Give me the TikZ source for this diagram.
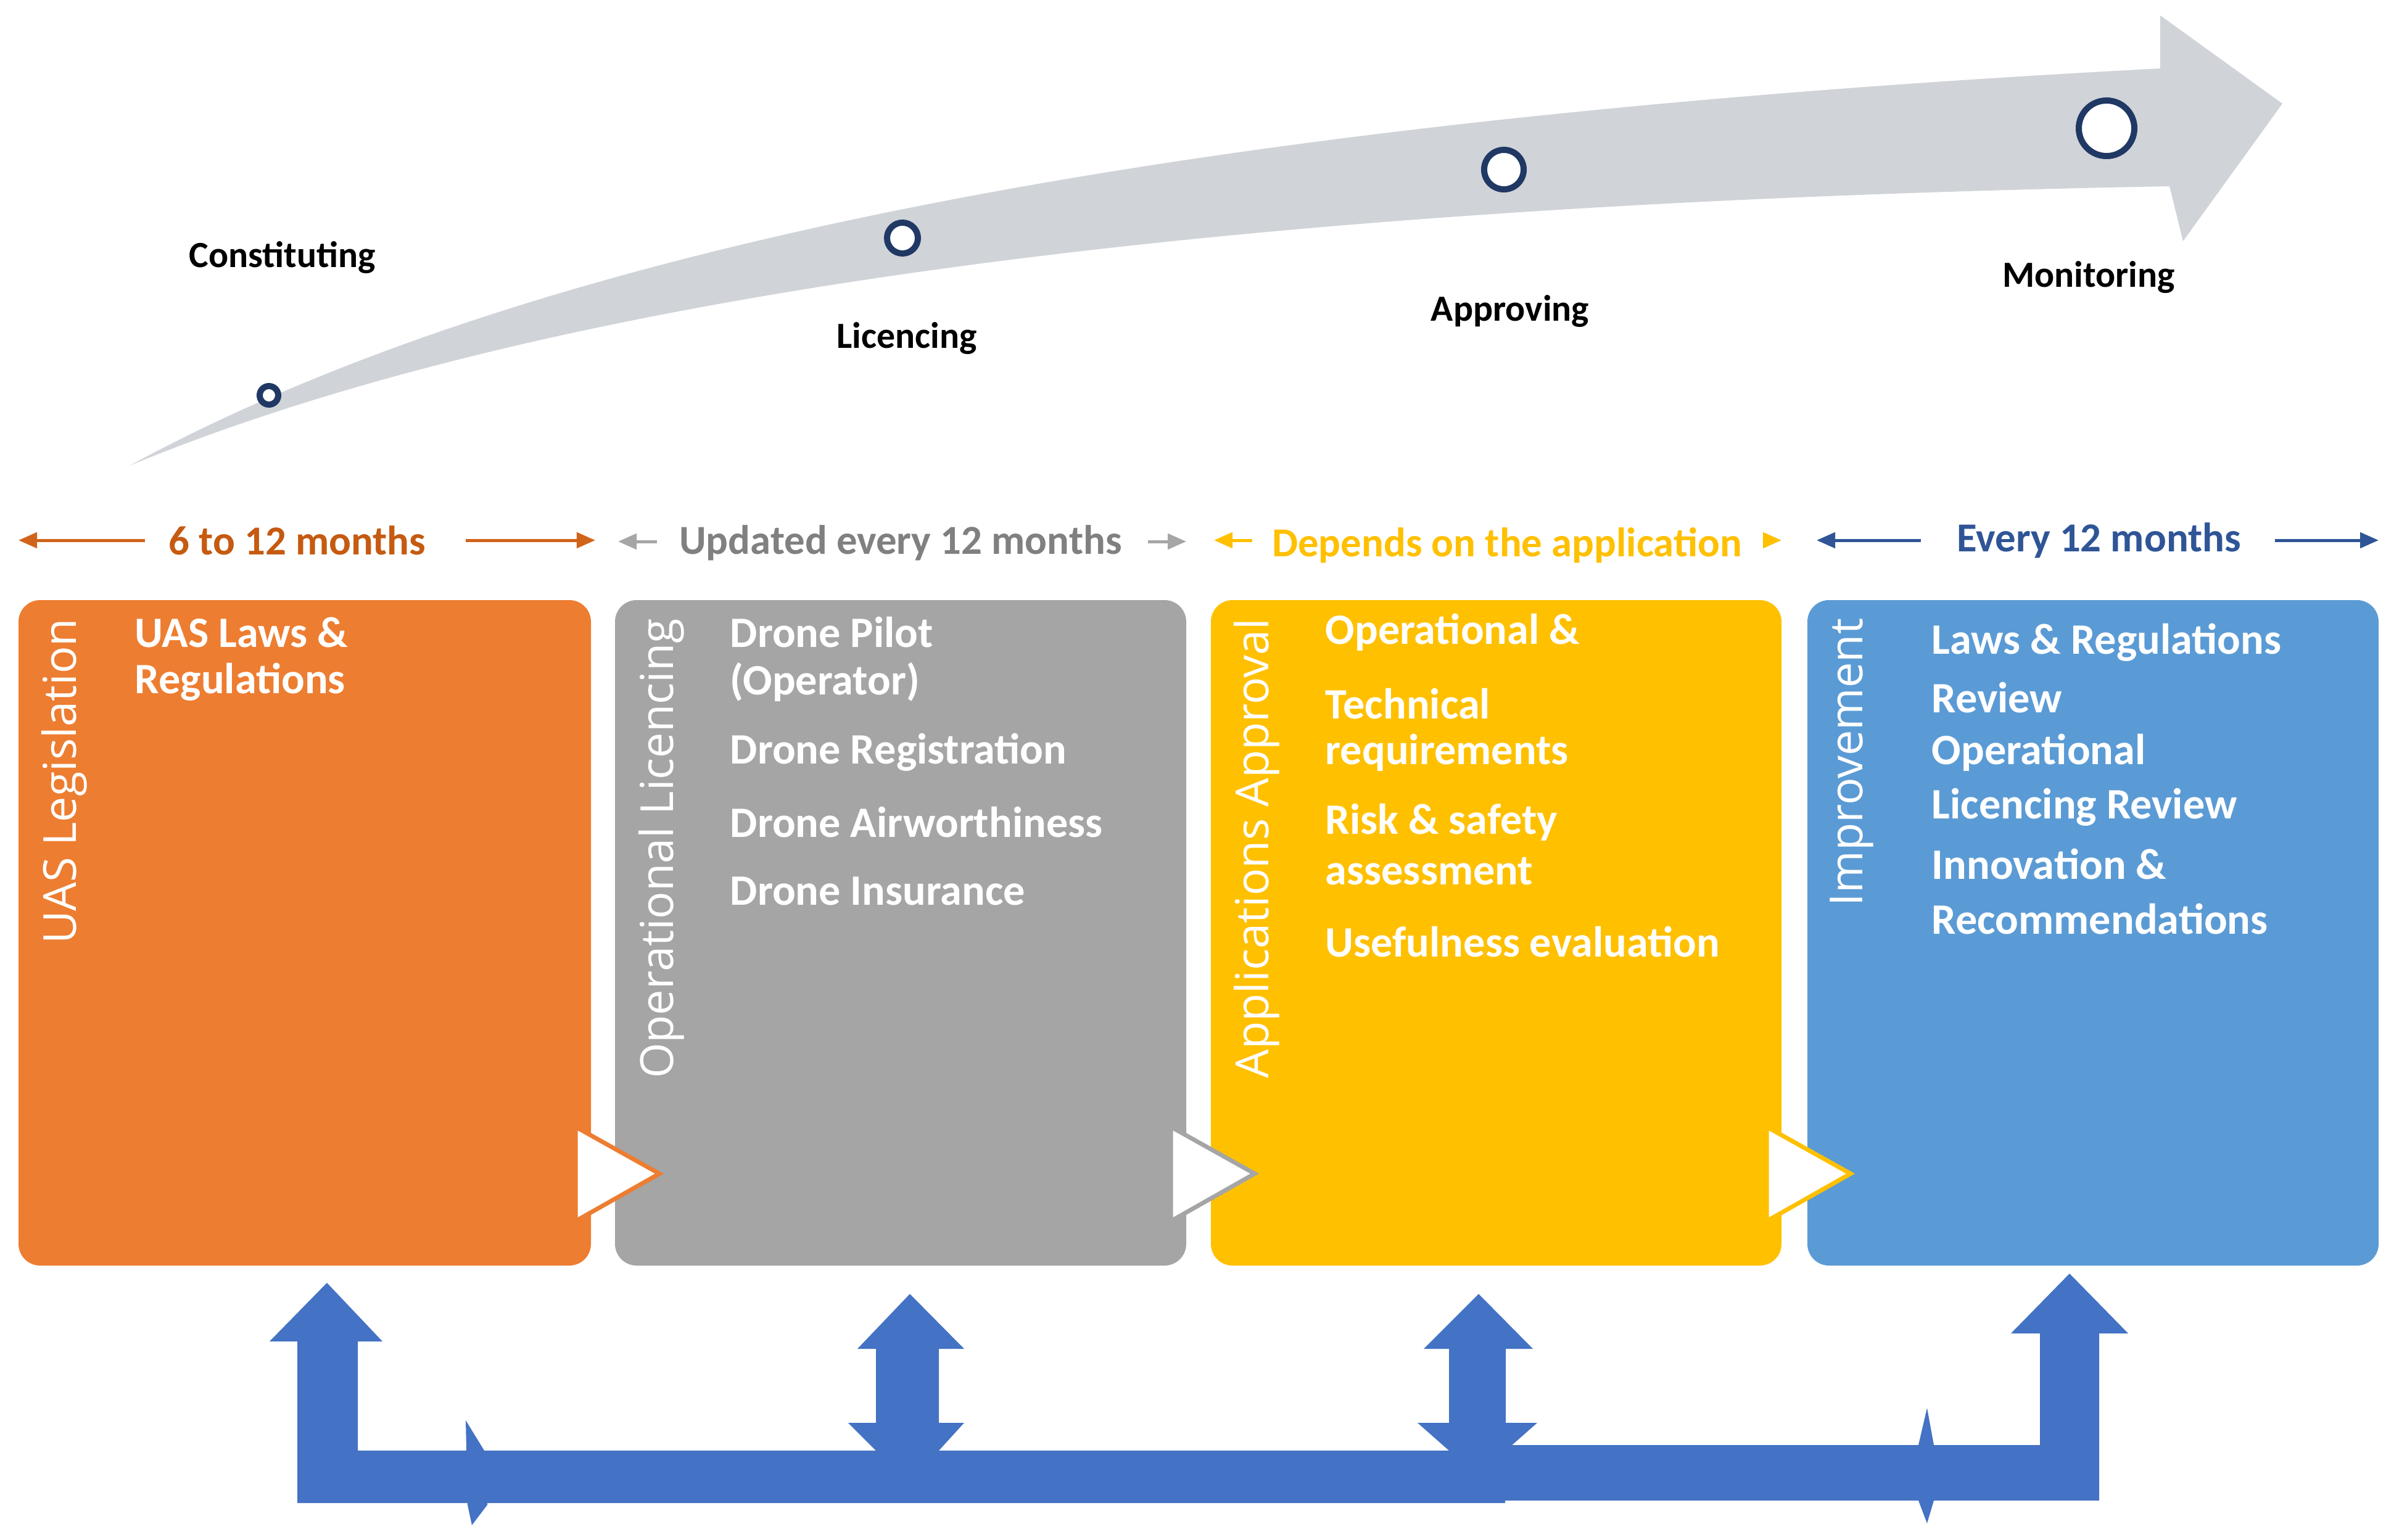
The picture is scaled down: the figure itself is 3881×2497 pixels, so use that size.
\documentclass[tikz,border=0pt]{standalone}
\usepackage{fontspec}
\usetikzlibrary{arrows.meta}
\setmainfont{Carlito}
\newfontfamily\titlefont{Open Sans}
\definecolor{cOr}{HTML}{ED7D31}
\definecolor{cGr}{HTML}{A5A5A5}
\definecolor{cYe}{HTML}{FFC000}
\definecolor{cBl}{HTML}{5B9BD5}
\definecolor{tOr}{HTML}{C55A11}
\definecolor{tGr}{HTML}{808080}
\definecolor{tBl}{HTML}{2F5597}
\definecolor{cArr}{HTML}{4472C4}
\definecolor{cBig}{HTML}{D0D3D8}
\definecolor{cNavy}{HTML}{203864}
\begin{document}
\begin{tikzpicture}[x=0.01cm,y=-0.01cm,
  box/.style={rounded corners=0.35cm},
  vtitle/.style={rotate=90,anchor=east,text=white,font=\titlefont\fontsize{21}{24}\selectfont,inner sep=0pt},
  item/.style={anchor=west,text=white,font=\bfseries\fontsize{20}{24}\selectfont,inner sep=0pt},
  phase/.style={font=\bfseries\fontsize{17}{20}\selectfont,text=black},
  timing/.style={font=\bfseries\fontsize{19}{22}\selectfont},
  tarr/.style={line width=0.05cm,-{Triangle[length=0.3cm,width=0.25cm]}},
  stone/.style={circle,draw=cNavy,fill=white,line width=0.1cm,inner sep=0pt},
  tri/.style={fill=white,line width=0.07cm,line join=miter},
  blu/.style={fill=cArr}]
\useasboundingbox (0,0) rectangle (3881,2497);
\fill[white] (0,0) rectangle (3881,2497);
% big arrow
\fill[cBig] (210,755) .. controls (900,380) and (2000,190) .. (3502,111) -- (3502,25) -- (3700,168) -- (3539,391) -- (3517,302) .. controls (2000,330) and (900,470) .. (210,755) -- cycle;
\node[stone,minimum size=0.3cm] (s1) at (436,641) {};
\node[stone,minimum size=0.5cm] (s2) at (1463,386) {};
\node[stone,minimum size=0.64cm] (s3) at (2438,275) {};
\node[stone,minimum size=0.9cm] (s4) at (3415,208) {};
\node[phase] (p1) at (458,418) {Constituting};
\node[phase] (p2) at (1470,549) {Licencing};
\node[phase] (p3) at (2448,505) {Approving};
\node[phase] (p4) at (3386,450) {Monitoring};
% timings
\coordinate (a1) at (235,876); \coordinate (a1e) at (30,876);
\coordinate (a2) at (755,876); \coordinate (a2e) at (965,876);
\draw[tarr,tOr!70!cOr] (a1) -- (a1e); \draw[tarr,tOr!70!cOr] (a2) -- (a2e);
\node[timing,text=tOr] (t1) at (482,876) {6 to 12 months};
\coordinate (b1) at (1065,878); \coordinate (b1e) at (1002,878);
\coordinate (b2) at (1861,878); \coordinate (b2e) at (1923,878);
\draw[tarr,tGr!70] (b1) -- (b1e); \draw[tarr,tGr!70] (b2) -- (b2e);
\node[timing,text=tGr] (t2) at (1460,880) {Updated every 12 months};
\coordinate (c1) at (2030,876); \coordinate (c1e) at (1968,876);
\coordinate (c2) at (2860,876); \coordinate (c2e) at (2888,876);
\draw[tarr,cYe] (c1) -- (c1e); \draw[tarr,cYe] (c2) -- (c2e);
\node[timing,text=cYe] (t3) at (2443,884) {Depends on the application};
\coordinate (d1) at (3114,876); \coordinate (d1e) at (2945,876);
\coordinate (d2) at (3688,876); \coordinate (d2e) at (3856,876);
\draw[tarr,tBl] (d1) -- (d1e); \draw[tarr,tBl] (d2) -- (d2e);
\node[timing,text=tBl] (t4) at (3403,876) {Every 12 months};
% boxes
\fill[box,cOr] (30,973) rectangle (958,2052);
\fill[box,cGr] (997,973) rectangle (1923,2052);
\fill[box,cYe] (1963,973) rectangle (2888,2052);
\fill[box,cBl] (2930,973) rectangle (3856,2052);
\node[vtitle] (v1) at (104,1002) {UAS Legislation};
\node[vtitle] (v2) at (1072,1002) {Operational Licencing};
\node[vtitle] (v3) at (2037,1002) {Applications Approval};
\node[vtitle] (v4) at (3002,1002) {Improvement};
\node[item] (o1) at (218,1025) {UAS Laws \&};
\node[item] (o2) at (218,1106) {Regulations};
\node[item] (g1) at (1183,1025) {Drone Pilot};
\node[item] (g2) at (1183,1106) {(Operator)};
\node[item] (g3) at (1183,1220) {Drone Registration};
\node[item] (g4) at (1183,1333) {Drone Airworthiness};
\node[item] (g5) at (1183,1445) {Drone Insurance};
\node[item] (y1) at (2148,1025) {Operational \&};
\node[item] (y2) at (2148,1141) {Technical};
\node[item] (y3) at (2148,1220) {requirements};
\node[item] (y4) at (2148,1333) {Risk \& safety};
\node[item] (y5) at (2148,1413) {assessment};
\node[item] (y6) at (2148,1527) {Usefulness evaluation};
\node[item] (b1n) at (3131,1042) {Laws \& Regulations};
\node[item] (b2n) at (3131,1131) {Review};
\node[item] (b3n) at (3131,1220) {Operational};
\node[item] (b4n) at (3131,1309) {Licencing Review};
\node[item] (b5n) at (3131,1401) {Innovation \&};
\node[item] (b6n) at (3131,1490) {Recommendations};
% chevrons
\filldraw[tri,draw=cOr] (933,1827) -- (1069,1903) -- (933,1980) -- cycle;
\filldraw[tri,draw=cGr] (1898,1827) -- (2034,1903) -- (1898,1980) -- cycle;
\filldraw[tri,draw=cYe] (2864,1827) -- (3000,1903) -- (2864,1980) -- cycle;
% bottom arrows
\fill[blu] (482,2437) -- (482,2175) -- (437,2175) -- (530,2080) -- (620,2175) -- (580,2175) -- (580,2352) -- (2440,2352) -- (2440,2343) -- (3307,2343) -- (3307,2162) -- (3260,2162) -- (3355,2065) -- (3450,2162) -- (3403,2162) -- (3403,2433) -- (2440,2433) -- (2440,2437) -- cycle;
\fill[blu] (755,2303) -- (790,2360) -- (790,2440) -- (765,2473) -- (758,2440) -- cycle;
\fill[blu] (3124,2283) -- (3135,2343) -- (3135,2433) -- (3124,2470) -- (3110,2433) -- (3110,2343) -- cycle;
\fill[blu] (1420,2352) -- (1375,2307) -- (1420,2307) -- (1420,2187) -- (1390,2187) -- (1475,2098) -- (1563,2187) -- (1522,2187) -- (1522,2307) -- (1563,2307) -- (1522,2352) -- cycle;
\fill[blu] (2349,2352) -- (2298,2307) -- (2349,2307) -- (2349,2187) -- (2308,2187) -- (2397,2098) -- (2485,2187) -- (2441,2187) -- (2441,2307) -- (2492,2307) -- (2441,2352) -- cycle;
\end{tikzpicture}
\end{document}
